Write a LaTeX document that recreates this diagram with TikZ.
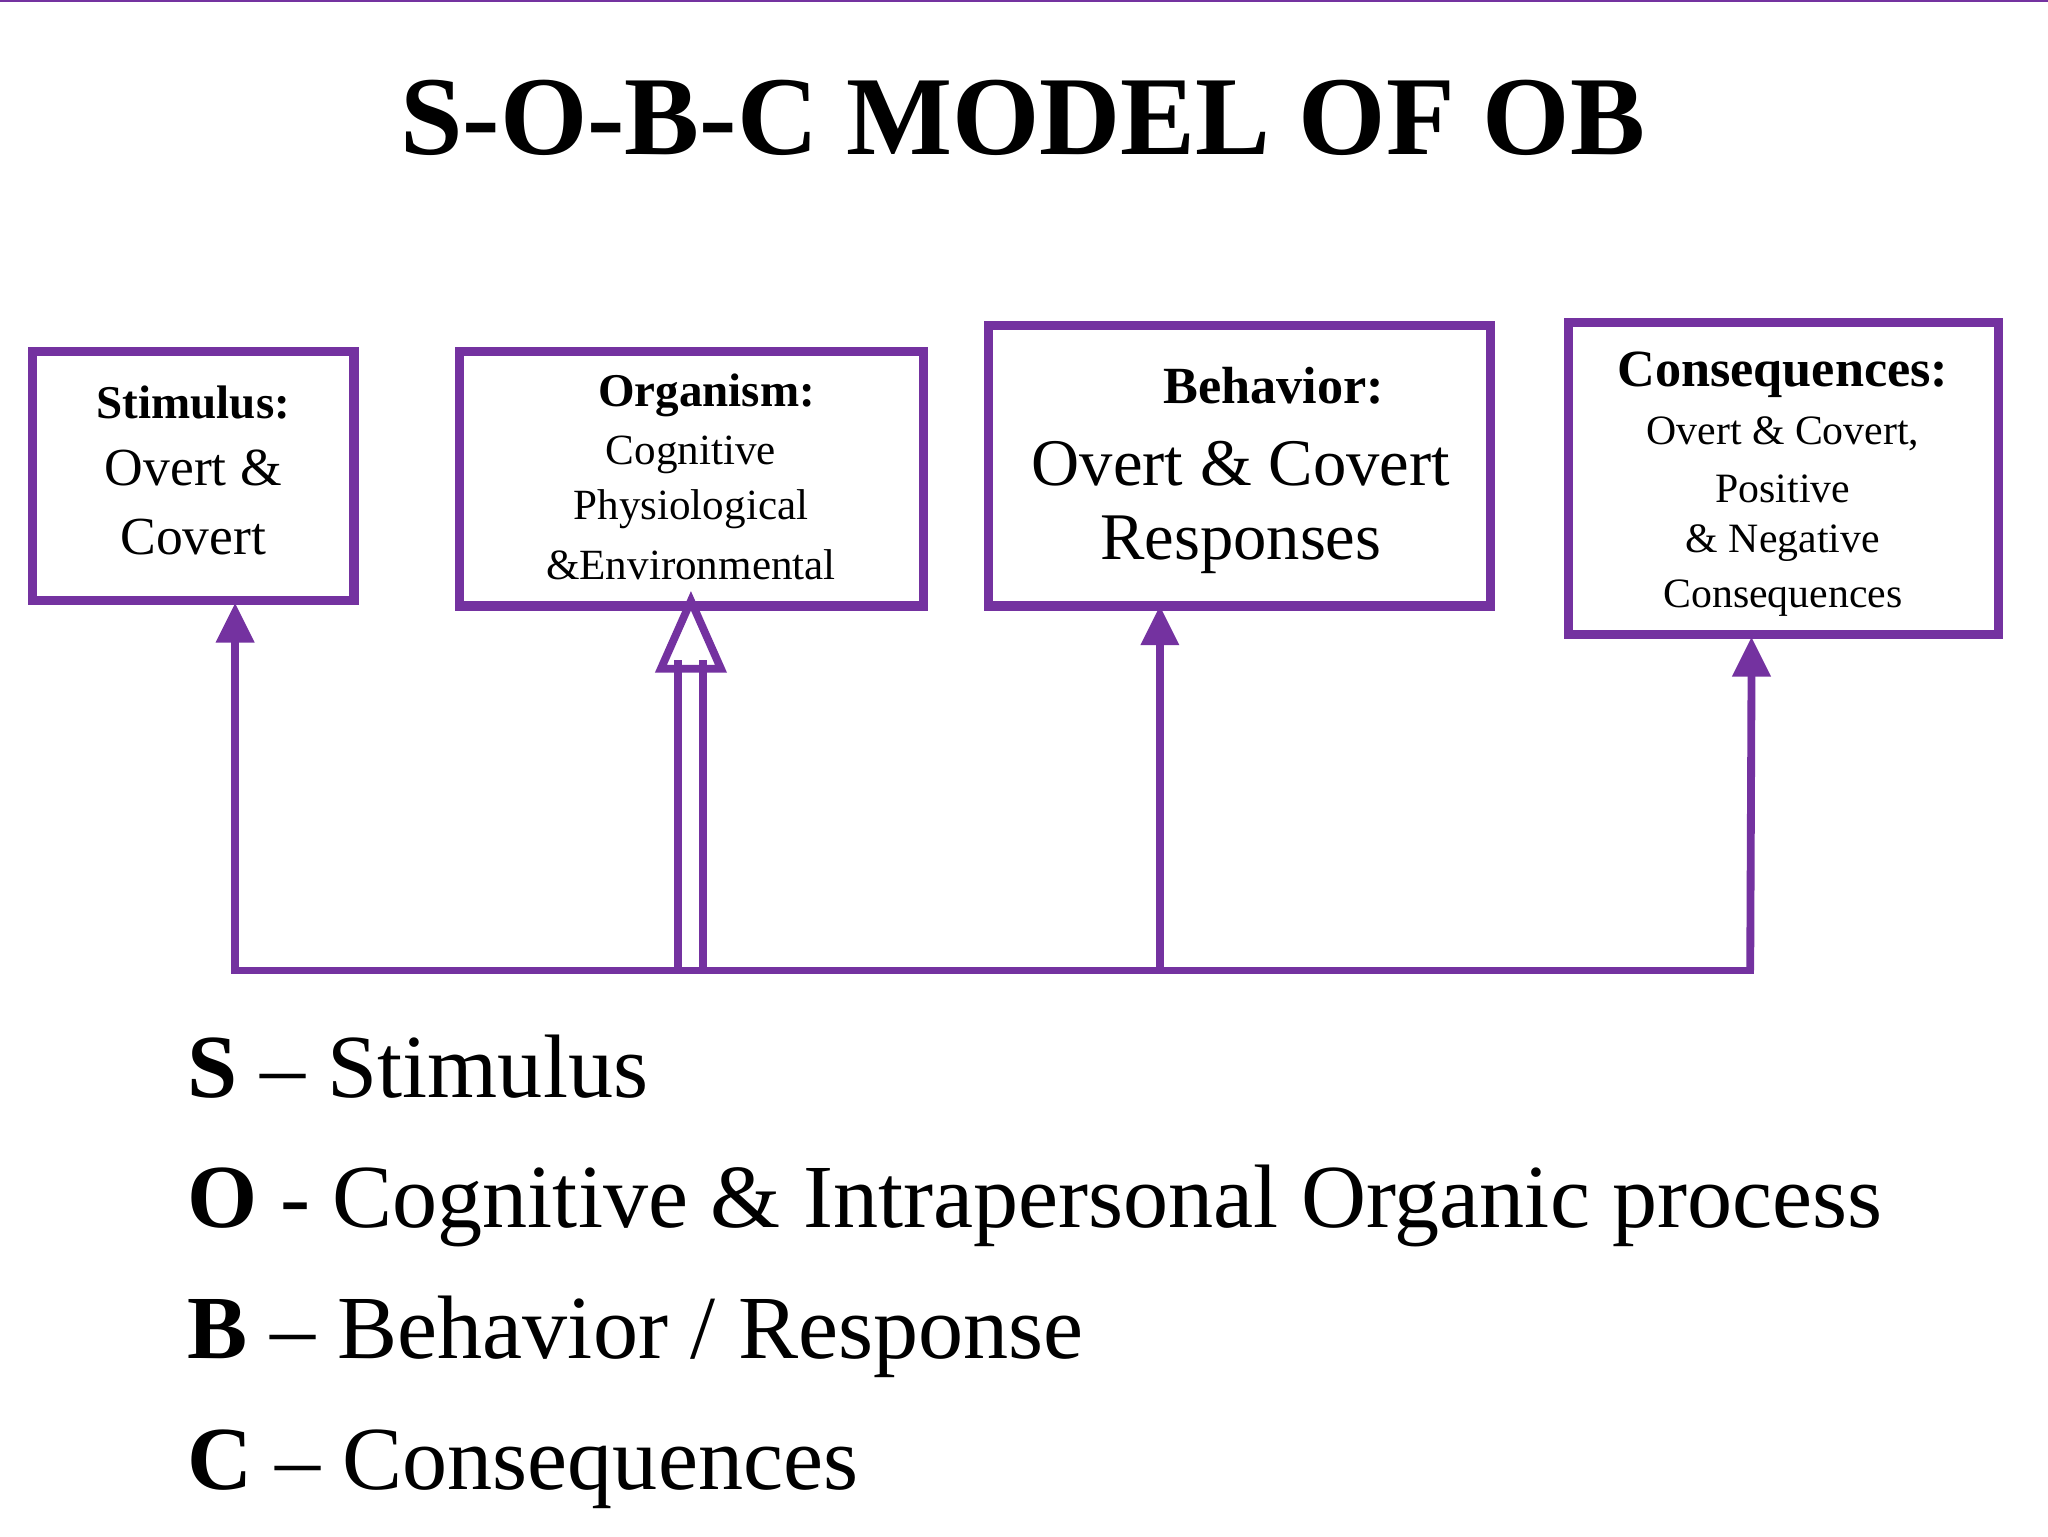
\documentclass[tikz,border=0pt]{standalone}
\usepackage{fontspec}
\setmainfont{Liberation Serif}
\definecolor{pur}{HTML}{7432A0}
\begin{document}
\begin{tikzpicture}[x=1pt,y=-1pt,
 bx/.style={draw=pur,line width=7pt,inner sep=0pt},
 ln/.style={draw=pur,line width=6pt},
 ar/.style={fill=pur}]
\useasboundingbox (0,0) rectangle (1568,1176);
\fill[white] (0,0) rectangle (1568,1176);
\draw[pur,line width=3pt] (0,0)--(1568,0);
\node (title) at (783,90) {\fontsize{86}{96}\selectfont\bfseries S-O-B-C MODEL OF OB};
% boxes
\draw[bx] (25,269) rectangle (271,460);
\coordinate (b1) at (180,462);
\node at (148,308) {\fontsize{36}{40}\selectfont\bfseries Stimulus:};
\node at (148,358) {\fontsize{41}{44}\selectfont Overt \&};
\node at (148,411) {\fontsize{41}{44}\selectfont Covert};
\draw[bx] (352,269) rectangle (707,464);
\node at (541,303) {\fontsize{36}{40}\selectfont\bfseries Organism:};
\node at (529,348) {\fontsize{33}{36}\selectfont Cognitive};
\node at (529,390) {\fontsize{33}{36}\selectfont Physiological};
\node at (529,432) {\fontsize{33}{36}\selectfont \&Environmental};
\draw[bx] (757,249) rectangle (1141,464);
\node at (975,295) {\fontsize{40}{42}\selectfont\bfseries Behavior:};
\node at (950,355) {\fontsize{51}{52}\selectfont Overt \& Covert};
\node at (950,417) {\fontsize{51}{52}\selectfont Responses};
\draw[bx] (1201,247) rectangle (1530,486);
\node at (1365,287) {\fontsize{40}{42}\selectfont\bfseries Consequences:};
\node at (1365,332) {\fontsize{32}{34}\selectfont Overt \& Covert,};
\node at (1365,374) {\fontsize{32}{34}\selectfont Positive};
\node at (1365,416) {\fontsize{32}{34}\selectfont \& Negative};
\node at (1365,458) {\fontsize{32}{34}\selectfont Consequences};
% connectors
\coordinate (c1) at (180,743); \coordinate (c4) at (1340,743);
\draw[ln,line cap=rect] (c1)--(c4);
\draw[ln] (c1)--(180,490);
\fill[ar] (165,492)--(180,462)--(195,492)--cycle;
\draw[ln] (888,743)--(888,492);
\fill[ar] (873,494)--(888,464)--(903,494)--cycle;
\draw[ln] (1340,743)--(1341,516);
\fill[ar] (1326,518)--(1341,488)--(1356,518)--cycle;
\draw[pur,line width=6pt,line join=miter,fill=white] (506,512)--(529,460)--(552,512)--cycle;
\draw[ln] (538,743)--(538,505);
\draw[ln] (519,743)--(519,505);
% legend
\node[anchor=base west] at (140,840) {\fontsize{69}{80}\selectfont\textbf{S} – Stimulus};
\node[anchor=base west] at (140,940) {\fontsize{69}{80}\selectfont\textbf{O} - Cognitive \& Intrapersonal Organic process};
\node[anchor=base west] at (140,1040) {\fontsize{69}{80}\selectfont\textbf{B} – Behavior / Response};
\node[anchor=base west] at (140,1140) {\fontsize{69}{80}\selectfont\textbf{C} – Consequences};
\end{tikzpicture}
\end{document}
